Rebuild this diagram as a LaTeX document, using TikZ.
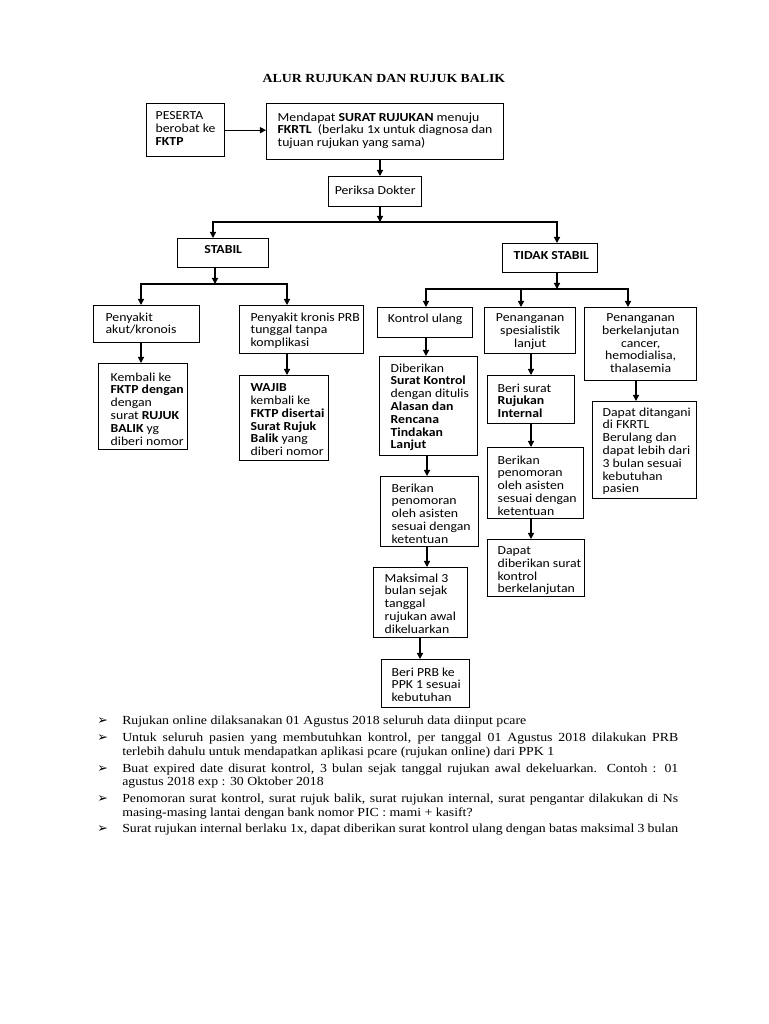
\documentclass[tikz,border=0pt]{standalone}
\usepackage{fontspec}
\setmainfont[FakeStretch=1.12]{Liberation Serif}
\newfontfamily\calfont[FakeStretch=1.12]{Carlito}
\newfontfamily\djv{DejaVu Sans}
\usetikzlibrary{arrows.meta}
\newdimen\pxu \pxu=0.75pt
\tikzset{
  boxs/.style={draw, line width=1pt, inner sep=0pt, anchor=north west},
  arr/.style={line width=0.95pt, -{Triangle[length=4.6pt,width=4.6pt]}},
}
% name, x, y, w, h, left pad, top pad, text
\newcommand\bx[8]{\node[boxs] (#1) at (#2,#3) {\parbox[b][\dimexpr#5\pxu\relax][t]{\dimexpr#4\pxu\relax}{\calfont\fontsize{9.2}{9.6}\selectfont\lineskiplimit=-30pt\raggedright\leftskip=\dimexpr#6\pxu\relax\vspace*{\dimexpr#7\pxu\relax}#8\par}};}
\begin{document}
\begin{tikzpicture}[x=0.75pt,y=-0.75pt]
\useasboundingbox (0,0) rectangle (768,1024);
\fill[white] (0,0) rectangle (768,1024);

\node[font=\bfseries\fontsize{9.25}{11}\selectfont, inner sep=0] (title) at (384,78) {ALUR RUJUKAN DAN RUJUK BALIK};

\bx{peserta}{146}{103}{78}{53}{9}{8}{PESERTA\\ berobat ke\\ \textbf{FKTP}}
\bx{mendapat}{266}{103}{237}{56}{11}{9}{Mendapat \textbf{SURAT RUJUKAN} menuju\\ \textbf{FKRTL}\ \ (berlaku 1x untuk diagnosa dan\\ tujuan rujukan yang sama)}
\bx{periksa}{328}{176}{93}{30}{0}{9}{\centering Periksa Dokter}
\bx{stabil}{177}{238}{91}{29}{0}{7}{\centering\textbf{STABIL}}
\bx{tidak}{502}{243}{95}{29}{11}{8}{\textbf{TIDAK STABIL}}
\bx{akut}{93}{305}{106}{37}{12}{7}{Penyakit\\ akut/kronois}
\bx{kronis}{239}{305}{124}{48}{11}{7}{Penyakit kronis PRB\\ tunggal tanpa\\ komplikasi}
\bx{kembali}{98}{363}{89}{86}{12}{9}{Kembali ke\\ \textbf{FKTP dengan}\\ dengan\\ surat \textbf{RUJUK}\\ \textbf{BALIK} yg\\ diberi nomor}
\bx{wajib}{239}{375}{89}{85}{11}{8}{\textbf{WAJIB}\\ kembali ke\\ \textbf{FKTP disertai}\\ \textbf{Surat Rujuk}\\ \textbf{Balik} yang\\ diberi nomor}
\bx{kontrol}{377}{307}{95}{30}{0}{6}{\centering Kontrol ulang}
\bx{spes}{484}{307}{91}{46}{0}{6}{\centering Penanganan\\ spesialistik\\ lanjut}
\bx{lanjut}{584}{307}{112}{73}{0}{6}{\centering Penanganan\\ berkelanjutan\\ cancer,\\ hemodialisa,\\ thalasemia}
\bx{diberikan}{379}{356}{98}{99}{11}{7}{Diberikan\\ \textbf{Surat Kontrol}\\ dengan ditulis\\ \textbf{Alasan dan}\\ \textbf{Rencana}\\ \textbf{Tindakan}\\ \textbf{Lanjut}}
\bx{berisurat}{487}{375}{87}{48}{10}{8}{Beri surat\\ \textbf{Rujukan}\\ \textbf{Internal}}
\bx{ditangani}{592}{401}{104}{97}{10}{6}{Dapat ditangani\\ di FKRTL\\ Berulang dan\\ dapat lebih dari\\ 3 bulan sesuai\\ kebutuhan\\ pasien}
\bx{berikanA}{380}{476}{98}{70}{11}{7}{Berikan\\ penomoran\\ oleh asisten\\ sesuai dengan\\ ketentuan}
\bx{berikanB}{487}{447}{96}{71}{10}{8}{Berikan\\ penomoran\\ oleh asisten\\ sesuai dengan\\ ketentuan}
\bx{dapat}{487}{539}{97}{57}{10}{7}{Dapat\\ diberikan surat\\ kontrol\\ berkelanjutan}
\bx{maksimal}{373}{567}{94}{70}{11}{6}{Maksimal 3\\ bulan sejak\\ tanggal\\ rujukan awal\\ dikeluarkan}
\bx{beriprb}{381}{659}{88}{48}{10}{8}{Beri PRB ke\\ PPK 1 sesuai\\ kebutuhan}

% column coordinates
\coordinate (cP) at (380,0);
\coordinate (cS) at (213,0);
\coordinate (cT) at (557,0);
\coordinate (cSt) at (215,0);
\coordinate (cA) at (141,0);
\coordinate (cK) at (287,0);
\coordinate (cKo) at (426,0);
\coordinate (cKo2) at (427,0);
\coordinate (cM) at (420,0);
\coordinate (cSp) at (521,0);
\coordinate (cSp2) at (531,0);
\coordinate (cL) at (628,0);
\coordinate (cL2) at (636,0);
\coordinate (bar1) at (380,222);
\coordinate (bar2) at (215,284);
\coordinate (bar3) at (557,289);

\draw[arr] (peserta.east) -- (peserta.east -| mendapat.west);
\draw[arr] (mendapat.south -| cP) -- (periksa.north -| cP);
\draw[arr] (periksa.south -| cP) -- (bar1);
\draw[arr] (bar1) -| (stabil.north -| cS);
\draw[arr] (bar1) -| (tidak.north -| cT);

\draw[arr] (stabil.south -| cSt) -- (bar2);
\draw[arr] (bar2) -| (akut.north -| cA);
\draw[arr] (bar2) -| (kronis.north -| cK);
\draw[arr] (akut.south -| cA) -- (kembali.north -| cA);
\draw[arr] (kronis.south -| cK) -- (wajib.north -| cK);

\draw[arr] (tidak.south -| cT) -- (bar3);
\draw[arr] (bar3) -| (kontrol.north -| cKo);
\draw[arr] (bar3) -| (spes.north -| cSp);
\draw[arr] (bar3) -| (lanjut.north -| cL);

\draw[arr] (kontrol.south -| cKo) -- (diberikan.north -| cKo);
\draw[arr] (diberikan.south -| cKo2) -- (berikanA.north -| cKo2);
\draw[arr] (berikanA.south -| cKo2) -- (maksimal.north -| cKo2);
\draw[arr] (maksimal.south -| cM) -- (beriprb.north -| cM);
\draw[arr] (spes.south -| cSp2) -- (berisurat.north -| cSp2);
\draw[arr] (berisurat.south -| cSp2) -- (berikanB.north -| cSp2);
\draw[arr] (berikanB.south -| cSp2) -- (dapat.north -| cSp2);
\draw[arr] (lanjut.south -| cL2) -- (ditangani.north -| cL2);

\node[anchor=north west, inner sep=0] (notes) at (97,716) {\parbox{435.75pt}{%
\fontsize{9.25}{10.1}\selectfont\lineskiplimit=-30pt\parskip=2.6pt\parindent=0pt\tolerance=9000
\newcommand\itm{\hangindent=18.75pt\hangafter=1\makebox[18.75pt][l]{\djv\fontsize{9.5}{8}\selectfont ➢}}%
\itm Rujukan online dilaksanakan 01 Agustus 2018 seluruh data diinput pcare\par
\itm Untuk seluruh pasien yang membutuhkan kontrol, per tanggal 01 Agustus 2018 dilakukan PRB\linebreak terlebih dahulu untuk mendapatkan aplikasi pcare (rujukan online) dari PPK 1\par
\itm Buat expired date disurat kontrol, 3 bulan sejak tanggal rujukan awal dekeluarkan. Contoh : 01\linebreak agustus 2018 exp : 30 Oktober 2018\par
\itm Penomoran surat kontrol, surat rujuk balik, surat rujukan internal, surat pengantar dilakukan di Ns\linebreak masing-masing lantai dengan bank nomor PIC : mami + kasift?\par
{\parfillskip=0pt\itm Surat rujukan internal berlaku 1x, dapat diberikan surat kontrol ulang dengan batas maksimal 3 bulan\par}
}};
\end{tikzpicture}
\end{document}
